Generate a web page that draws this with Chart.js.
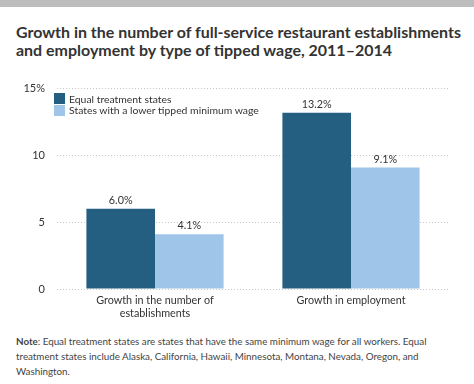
<!DOCTYPE html>
<html>
<head>
<meta charset="utf-8">
<script src="https://cdn.jsdelivr.net/npm/chart.js@4"></script>
<style>
  body { margin: 0; background: #fff; font-family: Lato, "Open Sans", sans-serif; }
  #wrap { position: relative; width: 474px; height: 384px; overflow: hidden; }
  #topbar { position: absolute; left: 0; top: 0; width: 474px; height: 7px; background: #bdbdbd; }
  #title { position: absolute; left: 16px; top: 23px; width: 458px; font-size: 16px; font-weight: bold; color: #333; line-height: 18px; }
  #chartBox { position: absolute; left: 0; top: 70px; width: 474px; height: 255px; }
  #legend { position: absolute; left: 54px; top: 93px; font-size: 10.4px; color: #333; }
  #legend div { display: flex; align-items: center; height: 11.5px; }
  #legend span.sw { display: inline-block; width: 11px; height: 11px; margin-right: 4px; }
  #note { position: absolute; left: 16px; top: 334px; width: 440px; font-size: 10px; color: #444; line-height: 15px; }
</style>
</head>
<body>
<div id="wrap">
  <div id="topbar"></div>
  <div id="title">Growth in the number of full-service restaurant establishments and employment by type of tipped wage, 2011–2014</div>
  <div id="chartBox"><canvas id="chart"></canvas></div>
  <div id="legend"></div>
  <div id="note"><b>Note</b>: Equal treatment states are states that have the same minimum wage for all workers. Equal treatment states include Alaska, California, Hawaii, Minnesota, Montana, Nevada, Oregon, and Washington.</div>
</div>
<script>
const categories = [
    ["Growth in the number of", "establishments"],
    "Growth in employment"
]
const seriesNames = [
    "Equal treatment states",
    "States with a lower tipped minimum wage"
]
const equalTreatment = [6.0, 13.2]
const lowerTipped = [4.1, 9.1]
const colors = ["#245f82", "#9fc5e8"]

// ajustar o tamanho das fontes de título e nota para a largura do original
function fitFont(id, weight, sample, target) {
    const probe = document.createElement("canvas").getContext("2d")
    probe.font = weight + " 10px Lato"
    const w = probe.measureText(sample).width
    document.getElementById(id).style.fontSize = (10 * target / w).toFixed(2) + "px"
}
fitFont("title", "bold", "Growth in the number of full-service restaurant establishments", 446)
fitFont("note", "normal", "Note: Equal treatment states are states that have the same minimum wage for all workers.", 385)

// rótulos de valor acima das barras
const valueLabels = {
    id: "valueLabels",
    afterDatasetsDraw(chart) {
        const ctx = chart.ctx
        ctx.save()
        ctx.font = "10.8px Lato, 'Open Sans', sans-serif"
        ctx.fillStyle = "#333"
        ctx.textAlign = "center"
        ctx.textBaseline = "bottom"
        chart.data.datasets.forEach((ds, i) => {
            chart.getDatasetMeta(i).data.forEach((bar, j) => {
                ctx.fillText(ds.data[j].toFixed(1) + "%", bar.x, bar.y - 3)
            })
        })
        ctx.restore()
    }
}

const chart = new Chart(document.getElementById("chart"), {
    type: "bar",
    data: {
        labels: categories,
        datasets: [{
            label: seriesNames[0],
            data: equalTreatment,
            backgroundColor: colors[0]
        }, {
            label: seriesNames[1],
            data: lowerTipped,
            backgroundColor: colors[1]
        }]
    },
    options: {
        responsive: true,
        maintainAspectRatio: false,
        animation: false,
        layout: { padding: { top: 11, right: 25, left: 0, bottom: 0 } },
        categoryPercentage: 0.7,
        barPercentage: 1.0,
        scales: {
            x: {
                grid: { display: false, drawTicks: false },
                border: { display: false },
                ticks: { color: "#333", font: { size: 10.8, family: "Lato, 'Open Sans', sans-serif" }, padding: 5, maxRotation: 0 },
                afterFit(scale) { scale.height = 36 }
            },
            y: {
                min: 0,
                max: 15,
                grid: { color: "#c8c8c8", drawTicks: false },
                border: { display: false, dash: [1, 2] },
                ticks: {
                    stepSize: 5,
                    color: "#333",
                    padding: 12,
                    font: { size: 11, family: "Lato, 'Open Sans', sans-serif" },
                    callback: v => v === 15 ? "15%" : v
                },
                afterFit(scale) { scale.width = 57 }
            }
        },
        plugins: {
            legend: { display: false },
            tooltip: { enabled: false }
        }
    },
    plugins: [valueLabels]
})

// legenda em HTML dentro da área do gráfico
const legend = document.getElementById("legend")
seriesNames.forEach((name, i) => {
    const row = document.createElement("div")
    row.innerHTML = '<span class="sw" style="background:' + colors[i] + '"></span>' + name
    legend.appendChild(row)
})
</script>
</body>
</html>
